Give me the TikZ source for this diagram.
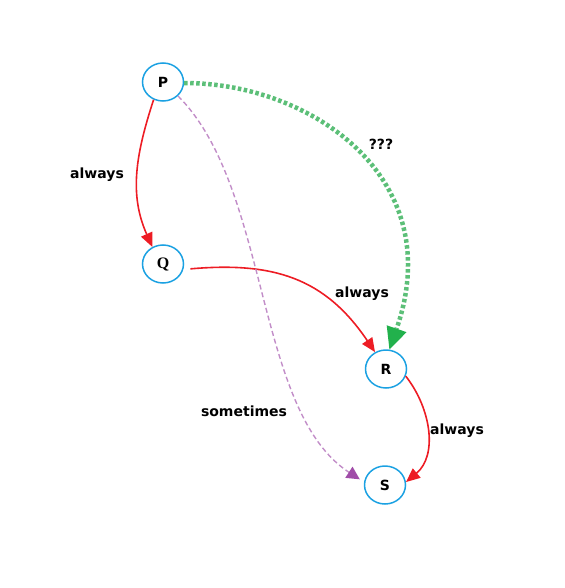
\documentclass[tikz,border=0pt]{standalone}
\usepackage{fontspec}
\setmainfont{DejaVu Sans}
\newfontfamily\qfont{Liberation Serif}
\usetikzlibrary{arrows.meta,shapes.geometric}
\definecolor{nodeblue}{HTML}{1BA1E2}
\definecolor{edgered}{HTML}{ED1C24}
\definecolor{edgegreen}{HTML}{5CBF78}
\definecolor{tipgreen}{HTML}{22B14C}
\definecolor{edgepurple}{HTML}{C28DC8}
\definecolor{tippurple}{HTML}{A04CA8}

\begin{document}
\begin{tikzpicture}[x=1pt,y=1pt,
	state/.style={draw=nodeblue,line width=1.5pt,ellipse,minimum width=41pt,minimum height=38pt,inner sep=0pt,font=\fontsize{14}{15}\selectfont\bfseries},
	always/.style={draw=edgered,line width=1.6pt,-{Triangle[length=14pt,width=12pt,fill=edgered]}},
	sometimes/.style={draw=edgepurple,line width=1.4pt,dash pattern=on 5pt off 3pt,-{Triangle[length=13pt,width=13pt,fill=tippurple,color=tippurple]}},
	unknown/.style={draw=edgegreen,line width=4.5pt,dash pattern=on 3.5pt off 2.5pt,-{Triangle[length=22pt,width=21pt,fill=tipgreen,color=tipgreen,line width=0pt]}},
	lbl/.style={font=\fontsize{14}{16}\selectfont\bfseries,inner sep=0pt}]
	\useasboundingbox (0,0) rectangle (564,-588);

	%States
	\node[state] (P) at (163,-82) {P};
	\node[state] (Q) at (163,-264) {\qfont\fontsize{16}{17}\selectfont Q};
	\node[state] (R) at (386,-369) {R};
	\node[state] (S) at (385,-485) {S};

	%Transitions
	\draw[always] (P.-118) to[out=-108,in=114] (Q.122);
	\draw[always,shorten <=7pt] (Q.-15) to[out=5,in=124,looseness=1.1] (R.123);
	\draw[always] (R.-20) to[out=-52,in=40] (S.8);
	\draw[sometimes,shorten >=5pt] (P.-43) to[out=-45,in=147,looseness=0.78] (S.172);
	\draw[unknown] (P.-3) .. controls (305,-82) and (450,-174) .. (R.80);

	%Labels
	\node[lbl] (lPQ) at (97,-175) {always};
	\node[lbl] (lQR) at (362,-294) {always};
	\node[lbl] (lPR) at (381,-144) {???};
	\node[lbl] (lPS) at (244,-411) {sometimes};
	\node[lbl] (lRS) at (457,-431) {always};
\end{tikzpicture}
\end{document}
